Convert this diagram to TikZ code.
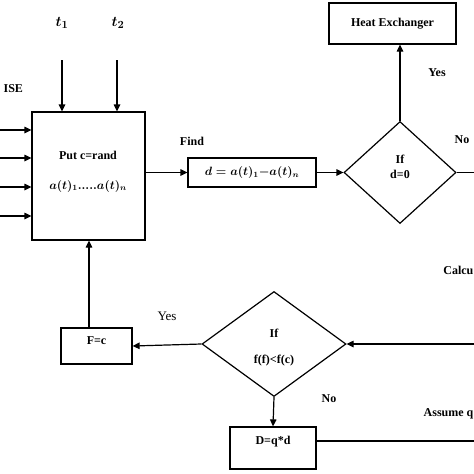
\documentclass[tikz,border=0pt]{standalone}
\usepackage{fontspec}
\usepackage{amsmath}
\setmainfont{Liberation Serif}
\usetikzlibrary{arrows.meta,shapes.geometric}
\begin{document}
\begin{tikzpicture}[x=1pt,y=-1pt, line width=1.2pt,
  >={Triangle[length=7pt,width=6.5pt]},
  font=\bfseries\boldmath\fontsize{12}{14}\selectfont,
  box/.style={draw, rectangle, inner sep=0pt},
  dia/.style={draw, diamond, inner sep=0pt},
  lbl/.style={inner sep=0pt}]
\useasboundingbox (0,0) rectangle (474,474);
\clip (0,0) rectangle (474,474);
% main box
\node[box, minimum width=113pt, minimum height=128pt] (main) at (88.5,176) {};
\node[lbl] (put) at (88,155) {Put c=rand};
\node[lbl] (seq) at (88,186) {$a(t)_1.....a(t)_n$};
% t inputs
\node[lbl, font=\bfseries\boldmath\fontsize{15}{17}\selectfont] (t1) at (62,23) {$t_1$};
\node[lbl, font=\bfseries\boldmath\fontsize{15}{17}\selectfont] (t2) at (118,23) {$t_2$};
\coordinate (t1a) at (62,60);
\coordinate (t2a) at (117,60);
\draw[->] (t1a) -- (t1a |- main.north);
\draw[->] (t2a) -- (t2a |- main.north);
% left inputs
\node[lbl, anchor=west] (ise) at (3,89) {ISE};
\coordinate (in1) at (0,130);
\coordinate (in2) at (0,158);
\coordinate (in3) at (0,187);
\coordinate (in4) at (0,216);
\foreach \i in {in1,in2,in3,in4} \draw[->] (\i) -- (\i -| main.west);
% d box
\node[box, minimum width=128pt, minimum height=29pt] (dbox) at (252,172.5) {$d = a(t)_1{-}a(t)_n$};
\node[lbl] (find) at (192,141) {Find};
\draw[->] (main.east |- dbox.west) -- (dbox.west);
% diamond 1
\node[dia, minimum width=112pt, minimum height=102pt] (d1) at (400,172.5) {};
\node[lbl, align=center] (d1t) at (400,167) {If\\[1pt]d=0};
\draw[->] (dbox.east) -- (d1.west);
% heat exchanger
\node[box, minimum width=127pt, minimum height=41pt] (hx) at (392.5,23.5) {Heat Exchanger};
\draw[->] (d1.north) -- (d1.north |- hx.south);
\node[lbl] (yes1) at (437,73) {Yes};
\node[lbl] (no1) at (462,140) {No};
\coordinate (r1) at (474,172.5);
\draw (d1.east) -- (r1);
% calculate
\node[lbl, anchor=east] (calc) at (474,270) {Calcu};
% diamond 2
\node[dia, minimum width=144pt, minimum height=105pt] (d2) at (274,344) {};
\node[lbl] (d2a) at (274,333) {If};
\node[lbl] (d2b) at (274,361) {f(f)<f(c)};
\coordinate (r2) at (474,344);
\draw[->] (r2) -- (d2.east);
% F=c
\node[box, minimum width=71pt, minimum height=36pt] (fc) at (96.5,346) {};
\node[lbl] (fct) at (96.5,341) {F=c};
\draw[->] (d2.west) -- (fc.east);
\node[lbl, font=\fontsize{13}{15}\selectfont] (yes2) at (167,316) {Yes};
\draw[->] (fc.north -| 89,0) -- (main.south -| 89,0);
% D box
\node[box, minimum width=86pt, minimum height=42pt] (dd) at (273,448) {};
\node[lbl] (ddt) at (273,442) {D=q*d};
\draw[->] (d2.south) -- (dd.north);
\node[lbl] (no2) at (329,399) {No};
\coordinate (r3) at (474,441);
\draw (dd.east |- r3) -- (r3);
\node[lbl, anchor=east] (assume) at (474,414) {Assume q};
\end{tikzpicture}
\end{document}
